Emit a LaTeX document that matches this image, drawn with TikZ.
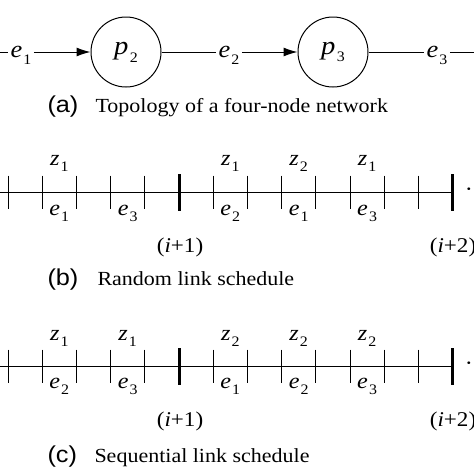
\documentclass[tikz,border=0pt]{standalone}
\usepackage{fontspec}
\setmainfont[FakeStretch=1.1]{Liberation Serif}
\setsansfont[FakeStretch=1.1]{Liberation Sans}
\usetikzlibrary{arrows.meta}

% variable with a lowered subscript
\newcommand\sv[2]{\textit{#1}\kern.05em\raisebox{-0.3em}{\fontsize{14.5}{16}\selectfont #2}}

\tikzset{
  var/.style={font=\fontsize{22}{26}\selectfont, inner sep=0pt, anchor=base},
  capt/.style={font=\fontsize{20}{24}\selectfont, inner sep=0pt, anchor=base west},
  tag/.style={font=\sffamily\fontsize{23}{27}\selectfont, inner sep=0pt, anchor=base west},
  proc/.style={draw, circle, minimum size=70pt, inner sep=0pt, font=\fontsize{26}{30}\selectfont},
  lnk/.style={inner sep=2pt, text height=15pt, text depth=4pt, font=\fontsize{24}{28}\selectfont},
  bound/.style={line width=3pt},
  arr/.style={-{Latex[length=14pt,width=9pt]}},
}

\begin{document}
\begin{tikzpicture}[x=1pt, y=-1pt, line width=1pt]
\useasboundingbox (0,0) rectangle (474,474);
\clip (0,0) rectangle (474,474);

% (a) topology
\coordinate (w) at (0,52);
\coordinate (r) at (474,52);
\node (e1) at (21,52) [lnk] {\sv{e}{1}};
\node (p2) at (126,52) [proc] {\sv{p}{2}};
\node (e2) at (229,52) [lnk] {\sv{e}{2}};
\node (p3) at (333,52) [proc] {\sv{p}{3}};
\node (e3) at (437,52) [lnk] {\sv{e}{3}};
\draw (w) -- (e1);
\draw [arr] (e1) -- (p2);
\draw (p2) -- (e2);
\draw [arr] (e2) -- (p3);
\draw (p3) -- (e3);
\draw (e3) -- (r);
\node (ta) at (47,112) [tag] {(a)};
\node (ca) at (95,112) [capt] {Topology of a four-node network};

% (b) random schedule
\draw (0,192) -- (452.6,192);
\foreach \k in {0,...,12} \draw (8+34.2*\k,175.5) -- ++(0,33);
\draw [bound] (179,174) -- ++(0,37);
\draw [bound] (452.6,174) -- ++(0,37);
\foreach \k/\z in {1/1, 6/1, 8/2, 10/1}
  \node (zb\k) at (25.1+34.2*\k,165) [var] {\sv{z}{\z}};
\foreach \k/\e in {1/1, 3/3, 6/2, 8/1, 10/3}
  \node (eb\k) at (25.1+34.2*\k,215) [var] {\sv{e}{\e}};
\node (ib1) at (180,252) [var,font=\fontsize{21}{25}\selectfont] {(\textit{i}+1)};
\node (ib2) at (453,252) [var,font=\fontsize{21}{25}\selectfont] {(\textit{i}+2)};
\node (db) at (469,192) [font=\fontsize{22}{26}\selectfont, inner sep=0pt] {·};
\node (tb) at (47,285) [tag] {(b)};
\node (cb) at (97,285) [capt] {Random link schedule};

% (c) sequential schedule
\draw (0,366) -- (452.6,366);
\foreach \k in {0,...,12} \draw (8+34.2*\k,349.5) -- ++(0,33);
\draw [bound] (179,348) -- ++(0,37);
\draw [bound] (452.6,348) -- ++(0,37);
\foreach \k/\z in {1/1, 3/1, 6/2, 8/2, 10/2}
  \node (zc\k) at (25.1+34.2*\k,340) [var] {\sv{z}{\z}};
\foreach \k/\e in {1/2, 3/3, 6/1, 8/2, 10/3}
  \node (ec\k) at (25.1+34.2*\k,388) [var] {\sv{e}{\e}};
\node (ic1) at (180,426) [var,font=\fontsize{21}{25}\selectfont] {(\textit{i}+1)};
\node (ic2) at (453,426) [var,font=\fontsize{21}{25}\selectfont] {(\textit{i}+2)};
\node (dc) at (469,366) [font=\fontsize{22}{26}\selectfont, inner sep=0pt] {·};
\node (tc) at (47,462) [tag] {(c)};
\node (cc) at (94,462) [capt] {Sequential link schedule};
\end{tikzpicture}
\end{document}
